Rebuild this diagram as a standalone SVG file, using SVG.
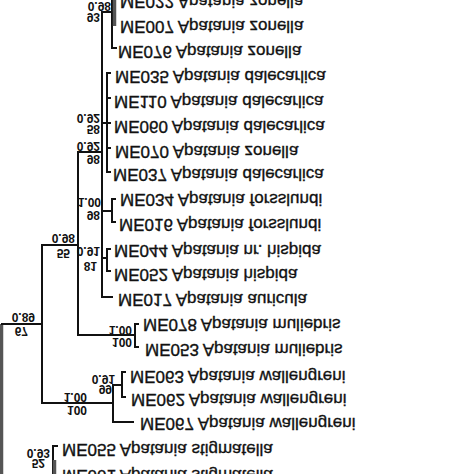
<svg xmlns="http://www.w3.org/2000/svg" width="474" height="474" viewBox="0 0 474 474">
<style>
.t{font-family:"Liberation Sans",Arial,sans-serif;font-size:17px;fill:#111;stroke:#111;stroke-width:0.35}
.s{font-family:"Liberation Sans",Arial,sans-serif;font-size:12px;font-weight:bold;fill:#111;text-anchor:end}
.e{stroke:#111;stroke-width:2;fill:none;stroke-linecap:square}
.g{stroke:#555;stroke-width:3.5;fill:none}
</style>
<rect width="474" height="474" fill="#fff"/>
<g id="connectors">
<path class="g" d="M1.5,324V474"/>
<path class="e" d="M2,324H42M42,245V403M42,245H78M42,403H113"/>
<path class="e" d="M78,152V335M78,152H102M78,335H135M135,324V347M135,324H138M135,347H138"/>
<path class="e" d="M102,12V297M102,12H112M112,-24V48H116"/>
<path class="g" d="M114.5,0V26"/>
<path class="e" d="M102,123H107M107,73V172M107,73H110M107,98H110M107,123H110M107,148H110M107,172H110"/>
<path class="e" d="M102,211H112M112,199V222M112,199H115M112,222H115"/>
<path class="e" d="M102,258H107M107,249V271M107,249H110M107,271H110"/>
<path class="e" d="M102,297H112"/>
<path class="e" d="M113,385V422M113,385H122M122,372V397M122,372H125M122,397H125M113,422H133"/>
<path class="e" d="M53,446V474M53,446H57"/>
<path class="g" d="M54.5,460V474"/>
</g>
<g id="leaves">
<g id="n022"><text class="t" transform="matrix(1 0 0 -1 120 2)" y="6">ME022 Apatania zonella</text></g>
<g id="n007"><text class="t" transform="matrix(1 0 0 -1 120 27)" y="6">ME007 Apatania zonella</text></g>
<g id="n076"><text class="t" transform="matrix(1 0 0 -1 118 52)" y="6">ME076 Apatania zonella</text></g>
<g id="n035"><text class="t" transform="matrix(1 0 0 -1 115 77)" y="6">ME035 Apatania dalecarlica</text></g>
<g id="n110"><text class="t" transform="matrix(1 0 0 -1 114 102)" y="6">ME110 Apatania dalecarlica</text></g>
<g id="n060"><text class="t" transform="matrix(1 0 0 -1 114 127)" y="6">ME060 Apatania dalecarlica</text></g>
<g id="n070"><text class="t" transform="matrix(1 0 0 -1 115 152)" y="6">ME070 Apatania zonella</text></g>
<g id="n037"><text class="t" transform="matrix(1 0 0 -1 113 175)" y="6">ME037 Apatania dalecarlica</text></g>
<g id="n034"><text class="t" transform="matrix(1 0 0 -1 120 200)" y="6">ME034 Apatania forsslundi</text></g>
<g id="n016"><text class="t" transform="matrix(1 0 0 -1 119 225)" y="6">ME016 Apatania forsslundi</text></g>
<g id="n044"><text class="t" transform="matrix(1 0 0 -1 114 251)" y="6">ME044 Apatania nr. hispida</text></g>
<g id="n052"><text class="t" transform="matrix(1 0 0 -1 114 275)" y="6">ME052 Apatania hispida</text></g>
<g id="n017"><text class="t" transform="matrix(1 0 0 -1 118 300)" y="6">ME017 Apatania auricula</text></g>
<g id="n078"><text class="t" transform="matrix(1 0 0 -1 143 325)" y="6">ME078 Apatania muliebris</text></g>
<g id="n053"><text class="t" transform="matrix(1 0 0 -1 145 350)" y="6">ME053 Apatania muliebris</text></g>
<g id="n063"><text class="t" transform="matrix(1 0 0 -1 130 377)" y="6">ME063 Apatania wallengreni</text></g>
<g id="n062"><text class="t" transform="matrix(1 0 0 -1 131 400)" y="6">ME062 Apatania wallengreni</text></g>
<g id="n067"><text class="t" transform="matrix(1 0 0 -1 140 424)" y="6">ME067 Apatania wallengreni</text></g>
<g id="n055"><text class="t" transform="matrix(1 0 0 -1 62 450)" y="6">ME055 Apatania stigmatella</text></g>
<g id="n001"><text class="t" transform="matrix(1 0 0 -1 62 476)" y="6">ME001 Apatania stigmatella</text></g>
</g>
<g id="support">
<text class="s" transform="matrix(1 0 0 -1 111 6)" y="4.3">0.98</text>
<text class="s" transform="matrix(1 0 0 -1 100 17)" y="4.3">93</text>
<text class="s" transform="matrix(1 0 0 -1 100 118)" y="4.3">0.92</text>
<text class="s" transform="matrix(1 0 0 -1 100 129)" y="4.3">58</text>
<text class="s" transform="matrix(1 0 0 -1 100 146)" y="4.3">0.92</text>
<text class="s" transform="matrix(1 0 0 -1 100 159)" y="4.3">98</text>
<text class="s" transform="matrix(1 0 0 -1 101 202)" y="4.3">1.00</text>
<text class="s" transform="matrix(1 0 0 -1 100 215)" y="4.3">98</text>
<text class="s" transform="matrix(1 0 0 -1 100 251)" y="4.3">0.91</text>
<text class="s" transform="matrix(1 0 0 -1 97 266)" y="4.3">81</text>
<text class="s" transform="matrix(1 0 0 -1 75 238)" y="4.3">0.98</text>
<text class="s" transform="matrix(1 0 0 -1 70 253)" y="4.3">55</text>
<text class="s" transform="matrix(1 0 0 -1 35 317)" y="4.3">0.89</text>
<text class="s" transform="matrix(1 0 0 -1 28 331)" y="4.3">67</text>
<text class="s" transform="matrix(1 0 0 -1 132 330)" y="4.3">1.00</text>
<text class="s" transform="matrix(1 0 0 -1 132 342)" y="4.3">100</text>
<text class="s" transform="matrix(1 0 0 -1 87 397)" y="4.3">1.00</text>
<text class="s" transform="matrix(1 0 0 -1 87 410)" y="4.3">100</text>
<text class="s" transform="matrix(1 0 0 -1 115 379)" y="4.3">0.91</text>
<text class="s" transform="matrix(1 0 0 -1 112 389)" y="4.3">99</text>
<text class="s" transform="matrix(1 0 0 -1 50 453)" y="4.3">0.93</text>
<text class="s" transform="matrix(1 0 0 -1 45 463)" y="4.3">52</text>
</g>
</svg>
